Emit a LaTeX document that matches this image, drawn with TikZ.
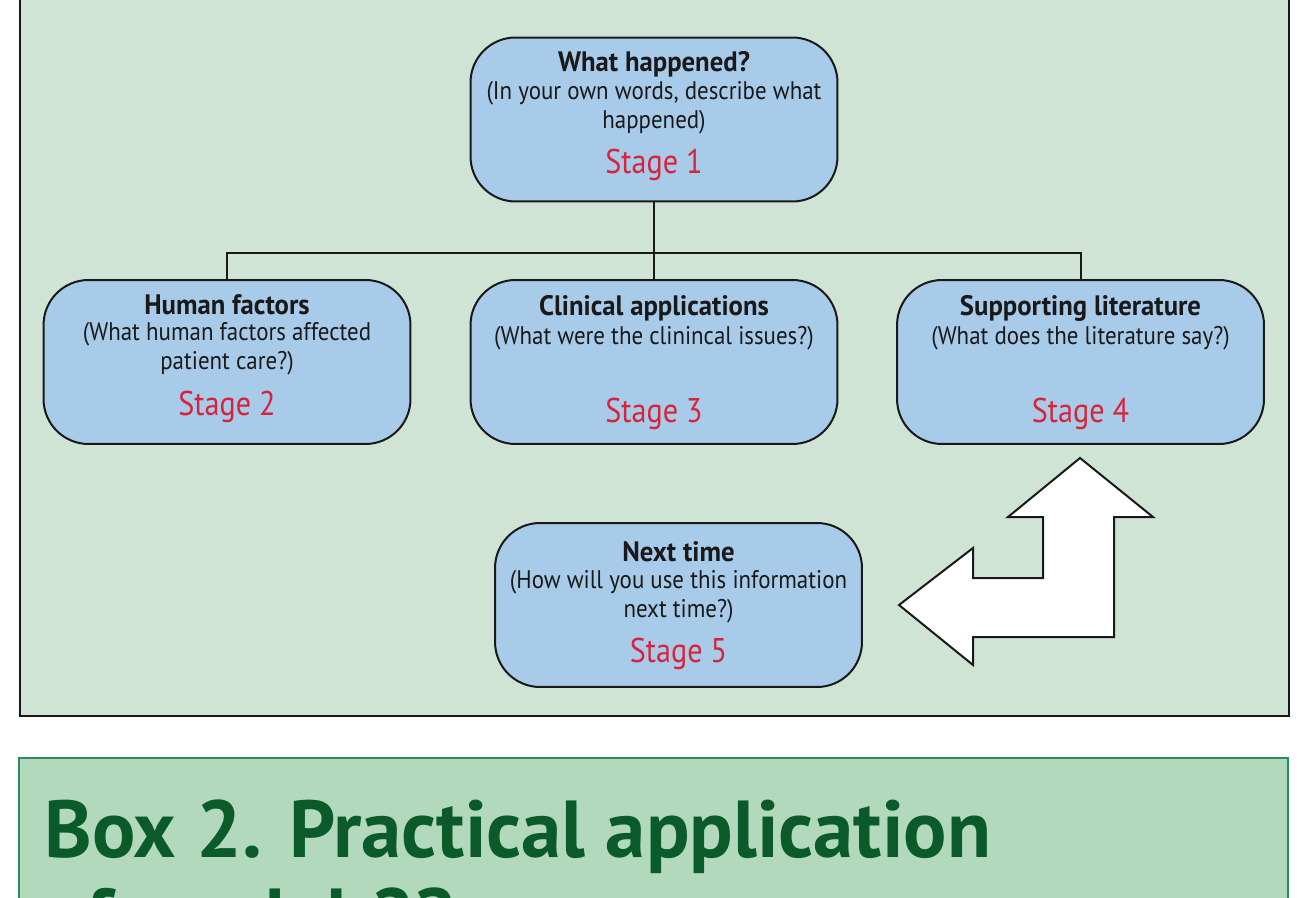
\documentclass[tikz,border=0pt]{standalone}
\usepackage{fontspec}
\setmainfont{PT Sans}
\newfontfamily\bodyfont[FakeStretch=0.9]{PT Sans}
\newfontfamily\headfont[FakeStretch=0.95]{PT Sans}
\newfontfamily\stagefont[FakeStretch=0.88]{PT Sans}
\usepackage{xcolor}
\usetikzlibrary{calc, positioning}

\definecolor{panelgreen}{HTML}{CFE4D4}
\definecolor{boxblue}{HTML}{A9CBEA}
\definecolor{stagered}{HTML}{D8243A}
\definecolor{titlegreen}{HTML}{B3D9BD}
\definecolor{titleline}{HTML}{2A8C5C}
\definecolor{titleink}{HTML}{0B5A2A}

\tikzset{
    stagebox/.style={draw=black!90, line width=0.04cm, fill=boxblue,
        rounded corners=0.9cm, minimum width=7.34cm, minimum height=3.28cm},
    heading/.style={font=\headfont\fontsize{16}{18}\selectfont\bfseries, text=black!90, inner sep=0pt},
    question/.style={font=\bodyfont\fontsize{14.5}{16.5}\selectfont, text=black!90, align=center, inner sep=0pt},
    stagelabel/.style={font=\stagefont\fontsize{19.5}{22}\selectfont, text=stagered, inner sep=0pt},
    link/.style={draw=black!90, line width=0.04cm},
    titleline/.style={anchor=base west, inner sep=0pt, text=titleink,
        font=\fontsize{46}{52}\selectfont\bfseries}
}

\begin{document}
\begin{tikzpicture}[x=0.02cm, y=-0.02cm]
    \useasboundingbox (0,0) rectangle (1297,898);
    \clip (0,0) rectangle (1297,898);

    % 1. Khung nền
    \draw[fill=panelgreen, draw=black!90, line width=0.05cm] (20,-20) rectangle (1289,716);

    % 2. Các hộp
    \node[stagebox] (b1) at (654,119.5) {};
    \node[stagebox] (b2) at (227,362) {};
    \node[stagebox] (b3) at (654,362) {};
    \node[stagebox] (b4) at (1080.5,362) {};
    \node[stagebox] (b5) at (678.5,605) {};

    % 3. Đường nối
    \coordinate (bus) at (654,253);
    \draw[link] (b1.south) -- (b3.north);
    \draw[link] (b2.north) |- (bus) -| (b4.north);

    % 4. Chữ trong hộp
    \node[heading] (h1) at ($(b1.north)+(0,28)$) {What happened?};
    \node[question] (q1) at ($(b1.north)+(0,71)$) {(In your own words, describe what\\happened)};
    \node[stagelabel] (s1) at ($(b1.north)+(0,128)$) {Stage 1};

    \node[heading] (h2) at ($(b2.north)+(0,26)$) {Human factors};
    \node[question] (q2) at ($(b2.north)+(0,70)$) {(What human factors affected\\patient care?)};
    \node[stagelabel] (s2) at ($(b2.north)+(0,128)$) {Stage 2};

    \node[heading] (h3) at ($(b3.north)+(0,29)$) {Clinical applications};
    \node[question] (q3) at ($(b3.north)+(0,59)$) {(What were the clinincal issues?)};
    \node[stagelabel] (s3) at ($(b3.north)+(0,135)$) {Stage 3};

    \node[heading] (h4) at ($(b4.north)+(0,29)$) {Supporting literature};
    \node[question] (q4) at ($(b4.north)+(0,59)$) {(What does the literature say?)};
    \node[stagelabel] (s4) at ($(b4.north)+(0,135)$) {Stage 4};

    \node[heading] (h5) at ($(b5.north)+(0,30)$) {Next time};
    \node[question] (q5) at ($(b5.north)+(0,75)$) {(How will you use this information\\next time?)};
    \node[stagelabel] (s5) at ($(b5.north)+(0,132)$) {Stage 5};

    % 5. Mũi tên gấp khúc
    \draw[fill=white, draw=black!90, line width=0.04cm, line join=miter]
        (1080,458) -- (1153,517) -- (1114,517) -- (1114,637) -- (973,637)
        -- (973,665) -- (899,605) -- (973,548) -- (973,578) -- (1043,578)
        -- (1043,517) -- (1008,517) -- cycle;

    % 6. Tiêu đề
    \draw[fill=titlegreen, draw=titleline, line width=0.035cm] (19,758) rectangle (1288,960);
    \node[titleline] (t1) at (44,857) {Box 2. Practical application};
    \node[titleline] (t2) at (44,945) {of model 2?};
\end{tikzpicture}
\end{document}
